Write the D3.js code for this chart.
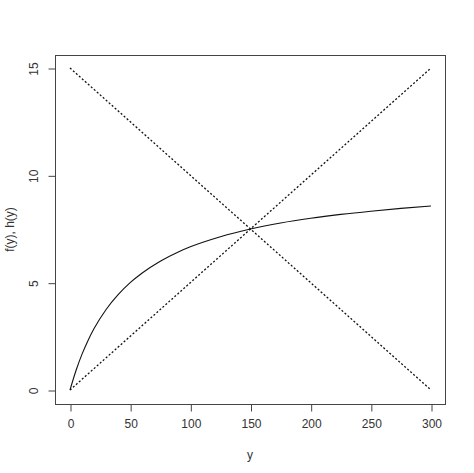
<!DOCTYPE html>
<html>
<head>
<meta charset="utf-8">
<script src="https://cdn.jsdelivr.net/npm/d3@7"></script>
<style>
  body { margin: 0; background: #fff; }
  text { font-family: "Liberation Sans", Arial, sans-serif; fill: #333; }
</style>
</head>
<body>
<svg id="chart" width="474" height="473"></svg>
<script>
// curve f(y)
const curveY = [0, 5, 10, 15, 20, 30, 40, 50, 60, 75, 90, 100, 125, 150, 175, 200, 225, 250, 275, 300];
const curveF = [0, 0.91, 1.67, 2.31, 2.86, 3.75, 4.44, 5.0, 5.45, 6.0, 6.43, 6.67, 7.14, 7.5, 7.78, 8.0, 8.18, 8.33, 8.46, 8.57];
// the two straight dashed lines
const riseY = [0, 300];
const riseH = [0, 15];
const fallY = [0, 300];
const fallH = [15, 0];
const xTicks = [0, 50, 100, 150, 200, 250, 300];
const yTicks = [0, 5, 10, 15];

const svg = d3.select("#chart");
const box = { left: 55, top: 55, right: 445, bottom: 404 };

const x = d3.scaleLinear().domain([0, 300]).range([70, 431]);
const y = d3.scaleLinear().domain([0, 15]).range([390, 68]);

// plot frame
svg.append("rect")
  .attr("x", box.left + 0.5).attr("y", box.top + 0.5)
  .attr("width", box.right - box.left).attr("height", box.bottom - box.top)
  .attr("fill", "none").attr("stroke", "#444").attr("stroke-width", 1);

const xAxis = svg.append("g")
  .attr("transform", `translate(0.5,${box.bottom + 0.5})`)
  .call(d3.axisBottom(x).tickValues(xTicks).tickSize(7).tickPadding(8).tickSizeOuter(0));
xAxis.select(".domain").attr("d", `M${x(0)},0H${x(300)}`).attr("stroke", "#444");
xAxis.selectAll(".tick line").attr("stroke", "#444");
xAxis.selectAll("text").attr("font-size", 12).style("font-family", "Liberation Sans, Arial, sans-serif").attr("fill", "#333");

const yAxis = svg.append("g")
  .attr("transform", `translate(${box.left + 0.5},0.5)`)
  .call(d3.axisLeft(y).tickValues(yTicks).tickSize(7).tickSizeOuter(0));
yAxis.select(".domain").attr("d", `M0,${y(0)}V${y(15)}`).attr("stroke", "#444");
yAxis.selectAll(".tick line").attr("stroke", "#444");
yAxis.selectAll("text")
  .attr("font-size", 12).attr("fill", "#333")
  .attr("x", 0).attr("dy", 0)
  .attr("text-anchor", "middle")
  .attr("transform", "translate(-18,0) rotate(-90)")
  .attr("dominant-baseline", "auto");

// axis titles
svg.append("text")
  .attr("x", (box.left + box.right) / 2).attr("y", 459)
  .attr("text-anchor", "middle").attr("font-size", 12).text("y");
svg.append("text")
  .attr("transform", `translate(14,${(box.top + box.bottom) / 2}) rotate(-90)`)
  .attr("text-anchor", "middle").attr("font-size", 12).text("f(y), h(y)");

const line = d3.line().x(d => x(d[0])).y(d => y(d[1]));

svg.append("path")
  .datum(d3.zip(riseY, riseH))
  .attr("d", line).attr("fill", "none")
  .attr("stroke", "#111").attr("stroke-width", 1.3).attr("stroke-dasharray", "2,2");
svg.append("path")
  .datum(d3.zip(fallY, fallH))
  .attr("d", line).attr("fill", "none")
  .attr("stroke", "#111").attr("stroke-width", 1.3).attr("stroke-dasharray", "2,2");

svg.append("path")
  .datum(d3.zip(curveY, curveF))
  .attr("d", line.curve(d3.curveMonotoneX)).attr("fill", "none")
  .attr("stroke", "#111").attr("stroke-width", 1.1);
</script>
</body>
</html>
